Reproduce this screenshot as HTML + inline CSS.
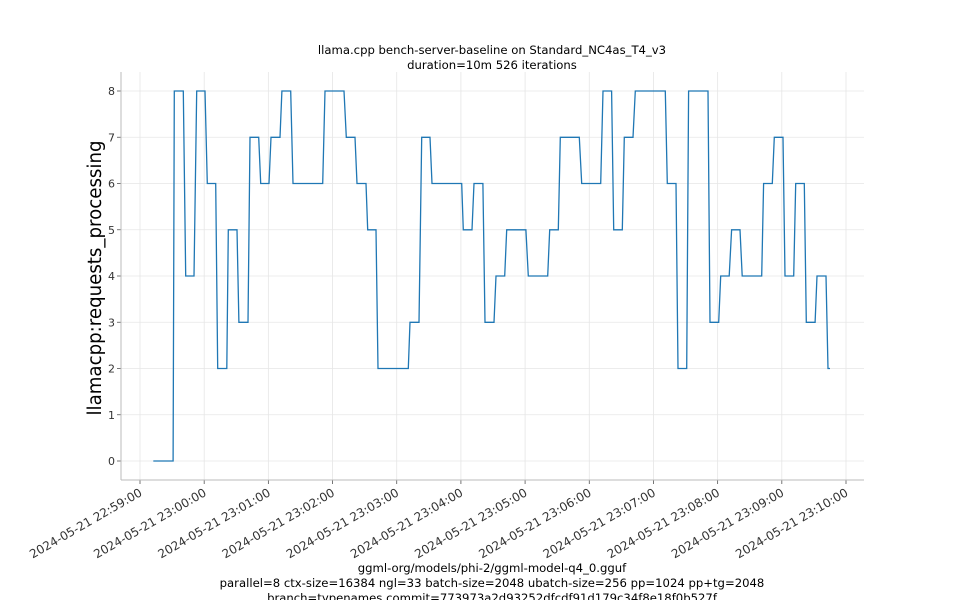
<!DOCTYPE html>
<html><head><meta charset="utf-8"><style>
html,body{margin:0;padding:0;background:#fff;}
svg text{font-family:"DejaVu Sans","Liberation Sans",sans-serif;}
</style></head><body>
<svg id="chart" width="960" height="600" xmlns="http://www.w3.org/2000/svg">
<rect width="960" height="600" fill="#fff"/>
<text x="492" y="54" font-size="11.65" text-anchor="middle" fill="#000">llama.cpp bench-server-baseline on Standard_NC4as_T4_v3</text>
<text x="492" y="69" font-size="11.65" text-anchor="middle" fill="#000">duration=10m 526 iterations</text>
<g id="grid"></g>
<g id="axes"></g>
<path id="series" fill="none" stroke="#1f77b4" stroke-width="1.3"/>
<text transform="translate(101,278) rotate(-90)" font-size="18.2" text-anchor="middle" fill="#000">llamacpp:requests_processing</text>
<text x="492" y="572" font-size="11.65" text-anchor="middle" fill="#000">ggml-org/models/phi-2/ggml-model-q4_0.gguf</text>
<text x="492" y="587" font-size="11.65" text-anchor="middle" fill="#000">parallel=8 ctx-size=16384 ngl=33 batch-size=2048 ubatch-size=256 pp=1024 pp+tg=2048</text>
<text x="492" y="602" font-size="11.65" text-anchor="middle" fill="#000">branch=typenames commit=773973a2d93252dfcdf91d179c34f8e18f0b527f</text>
</svg>
<script>
// seconds after 2024-05-21 22:59:00
const times=[12.4,30.9,32.1,40.5,42.7,50.5,53.0,60.8,62.9,70.8,72.6,81.1,82.5,90.7,92.5,101.0,102.8,111.0,112.8,120.6,122.5,130.9,132.7,140.9,143.0,170.8,172.9,190.7,192.9,201.0,202.9,211.3,212.9,220.6,222.5,250.8,252.4,260.8,263.3,271.1,273.0,300.7,302.2,310.4,312.2,320.6,322.5,330.9,332.8,340.9,342.8,360.8,363.0,381.1,383.0,391.0,392.9,410.7,412.9,430.7,432.8,440.9,442.8,450.9,452.7,460.9,463.0,491.1,492.9,501.1,502.9,511.1,512.9,531.0,532.9,541.0,542.9,550.8,553.1,560.9,563.0,581.2,583.0,591.1,593.0,601.1,603.0,611.1,613.0,621.0,622.9,631.1,632.9,641.3,643.2,645.0];
const values=[0,0,8,8,4,4,8,8,6,6,2,2,5,5,3,3,7,7,6,6,7,7,8,8,6,6,8,8,7,7,6,6,5,5,2,2,3,3,7,7,6,6,5,5,6,6,3,3,4,4,5,5,4,4,5,5,7,7,6,6,8,8,5,5,7,7,8,8,6,6,2,2,8,8,3,3,4,4,5,5,4,4,6,6,7,7,4,4,6,6,3,3,4,4,2,2];
const yTicks=[0,1,2,3,4,5,6,7,8];
const xTickLabels=["2024-05-21 22:59:00","2024-05-21 23:00:00","2024-05-21 23:01:00","2024-05-21 23:02:00","2024-05-21 23:03:00","2024-05-21 23:04:00","2024-05-21 23:05:00","2024-05-21 23:06:00","2024-05-21 23:07:00","2024-05-21 23:08:00","2024-05-21 23:09:00","2024-05-21 23:10:00"];

const NS="http://www.w3.org/2000/svg";
const L=121,R=864,T=72,B=480;
const xs=t=>140+t*(706/660);
const ys=v=>461-v*46.25;
const grid=document.getElementById('grid'), axes=document.getElementById('axes');
function mk(tag,attrs,parent){const e=document.createElementNS(NS,tag);for(const k in attrs)e.setAttribute(k,attrs[k]);parent.appendChild(e);return e;}
yTicks.forEach(v=>{
  const y=ys(v);
  const g=mk('line',{x1:L,x2:R,y1:y,y2:y,stroke:'#e6e6e6','stroke-width':0.8},grid);
  
  
  const tk=mk('line',{x1:L-4,x2:L,y1:y,y2:y,stroke:'#555','stroke-width':0.8},axes);
  
  
  const t=mk('text',{x:L-6,y:y+4,'font-size':11,'text-anchor':'end',fill:'#333'},axes);
  t.textContent=v;
  
  
});
xTickLabels.forEach((lab,i)=>{
  const x=xs(i*60);
  const g=mk('line',{x1:x,x2:x,y1:T,y2:B,stroke:'#e6e6e6','stroke-width':0.8},grid);
  
  
  const tk=mk('line',{x1:x,x2:x,y1:B,y2:B+4,stroke:'#555','stroke-width':0.8},axes);
  
  
  const t=mk('text',{transform:`translate(${x+3},${B+15}) rotate(-30)`,'font-size':12,'text-anchor':'end',fill:'#333'},axes);
  t.textContent=lab;
  
  
});
const sp1=mk('line',{x1:L,x2:L,y1:T,y2:B,stroke:'#bbb','stroke-width':1},axes);


const sp2=mk('line',{x1:L,x2:R,y1:B,y2:B,stroke:'#bbb','stroke-width':1},axes);


document.getElementById('series').setAttribute('d',times.map((t,i)=>(i?'L':'M')+xs(t).toFixed(1)+','+ys(values[i]).toFixed(1)).join(''));
</script>
</body></html>
